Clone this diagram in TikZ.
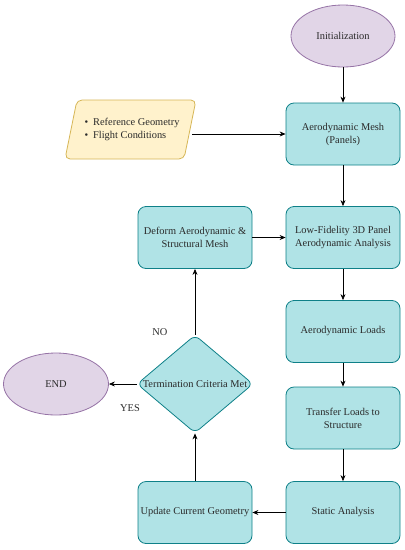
\documentclass[tikz,border=0pt]{standalone}
\usepackage{fontspec}
\setmainfont{Liberation Serif}
\usetikzlibrary{shapes.geometric,arrows.meta}
\definecolor{tealfill}{HTML}{B0E3E6}
\definecolor{tealline}{HTML}{0E8088}
\definecolor{purpfill}{HTML}{E1D5E7}
\definecolor{purpline}{HTML}{9673A6}
\definecolor{yelfill}{HTML}{FFF2CC}
\definecolor{yelline}{HTML}{D6B656}
\definecolor{txt}{HTML}{2A2A2A}
\tikzset{
  every node/.style={font=\fontsize{10.4}{13}\selectfont, text=txt},
  procbox/.style={rectangle, rounded corners=8pt, draw=tealline, fill=tealfill, line width=0.8pt,
    minimum width=114pt, minimum height=62pt, align=center, inner sep=1pt},
  term/.style={ellipse, draw=purpline, fill=purpfill, line width=0.8pt, minimum width=104pt, minimum height=62pt, inner sep=0pt},
  decision/.style={diamond, aspect=1.18, draw=tealline, fill=tealfill, line width=0.8pt, rounded corners=6pt,
    minimum width=116pt, minimum height=98pt, inner sep=0pt},
  conn/.style={-{Stealth[length=6pt,width=5pt]}, line width=0.7pt, black},
}
\begin{document}
\begin{tikzpicture}[x=1pt,y=-1pt]
\useasboundingbox (0,0) rectangle (405,550);
\node[term] (init) at (343,36) {Initialization};
\node[procbox] (mesh) at (343,134) {Aerodynamic Mesh\\(Panels)};
\node[procbox] (lowfi) at (343,237.5) {Low-Fidelity 3D Panel\\Aerodynamic Analysis};
\node[procbox] (deform) at (195,237.5) {Deform Aerodynamic \&\\Structural Mesh};
\node[procbox] (loads) at (343,331.5) {Aerodynamic Loads};
\node[procbox] (transfer) at (343,418) {Transfer Loads to\\Structure};
\node[procbox] (static) at (343,512.5) {Static Analysis};
\node[procbox] (update) at (195,512.5) {Update Current Geometry};
\node[decision] (crit) at (195,384) {Termination Criteria Met};
\node[term, minimum width=105pt] (end) at (56,384) {END};
% parallelogram input
\draw[draw=yelline, fill=yelfill, line width=0.8pt, rounded corners=5pt]
  (77,100) -- (196,100) -- (184,159) -- (65,159) -- cycle;
\node[align=left, anchor=west] (inp) at (81,129.5) {\textbullet\hspace{5pt}Reference Geometry\\\textbullet\hspace{5pt}Flight Conditions};
\coordinate (inpout) at (192,134);
% connectors
\draw[conn] (init) -- (mesh);
\draw[conn] (inpout) -- (inpout -| mesh.west);
\draw[conn] (mesh) -- (lowfi);
\draw[conn] (deform) -- (lowfi);
\draw[conn] (lowfi) -- (loads);
\draw[conn] (loads) -- (transfer);
\draw[conn] (transfer) -- (static);
\draw[conn] (static) -- (update);
\draw[conn] (update) -- (crit);
\draw[conn] (crit) -- (deform);
\draw[conn] (crit) -- (end);
\node (no) at (160,332) {NO};
\node (yes) at (130,408) {YES};
\end{tikzpicture}
\end{document}
